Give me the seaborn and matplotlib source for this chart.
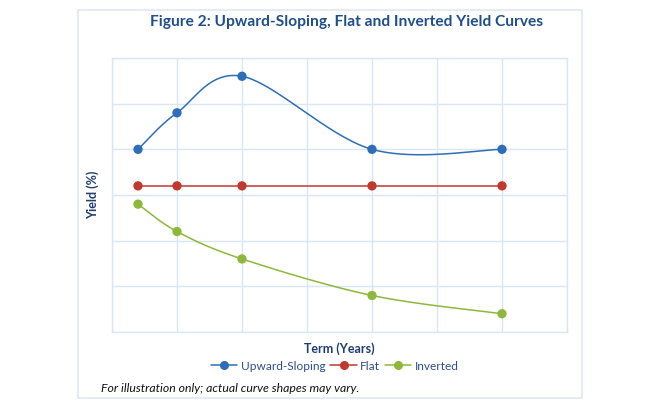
import matplotlib
matplotlib.use("Agg")
import matplotlib.pyplot as plt
from matplotlib.lines import Line2D
from matplotlib.patches import Rectangle
import numpy as np
import pandas as pd
import seaborn as sns

# values (grid units)
upTerm = [0.4, 1, 2, 4, 6]
upYield = [4.0, 4.8, 5.6, 4.0, 4.0]

flatTerm = [0.4, 1, 2, 4, 6]
flatYield = [3.2, 3.2, 3.2, 3.2, 3.2]

invTerm = [0.4, 1, 2, 4, 6]
invYield = [2.8, 2.2, 1.6, 0.8, 0.4]

seriesNames = ["Upward-Sloping", "Flat", "Inverted"]
seriesColors = ["#2E6DB8", "#C0392F", "#8DB83C"]

navy = "#1F3D6E"


def smooth(xs, ys, n=40):
    # excel-style smoothed line (cubic bezier through points, 1/6 tangents)
    p = np.column_stack([xs, ys]).astype(float)
    p = np.vstack([p[0], p, p[-1]])
    out = []
    t = np.linspace(0, 1, n)[:, None]
    for i in range(1, len(p) - 2):
        p0, p1 = p[i], p[i + 1]
        b1 = p0 + (p[i + 1] - p[i - 1]) / 6.0
        b2 = p1 - (p[i + 2] - p[i]) / 6.0
        seg = (1 - t) ** 3 * p0 + 3 * (1 - t) ** 2 * t * b1 + 3 * (1 - t) * t ** 2 * b2 + t ** 3 * p1
        out.append(seg)
    out = np.vstack(out)
    return out[:, 0], out[:, 1]


sns.set_style("white")
plt.rcParams["font.family"] = ["Lato", "DejaVu Sans"]

fig = plt.figure(figsize=(6.6, 4.03), dpi=100)
fig.patches.append(Rectangle((78 / 660, 5 / 403), 504 / 660, 388 / 403, transform=fig.transFigure,
                             fill=False, edgecolor="#DFE7F0", linewidth=1.2))

ax = fig.add_axes([112 / 660, 71 / 403, 455 / 660, 274 / 403])

allData = [(upTerm, upYield), (flatTerm, flatYield), (invTerm, invYield)]
frames = []
for name, (xs, ys) in zip(seriesNames, allData):
    sx, sy = smooth(xs, ys)
    frames.append(pd.DataFrame({"Term": sx, "Yield": sy, "Series": name, "order": np.arange(len(sx))}))
curveDf = pd.concat(frames)
pointDf = pd.concat([pd.DataFrame({"Term": xs, "Yield": ys, "Series": name})
                     for name, (xs, ys) in zip(seriesNames, allData)])

sns.lineplot(data=curveDf, x="Term", y="Yield", hue="Series", hue_order=seriesNames,
             palette=seriesColors, sort=False, estimator=None, units="Series",
             linewidth=1.1, legend=False, ax=ax)
sns.scatterplot(data=pointDf, x="Term", y="Yield", hue="Series", hue_order=seriesNames,
                palette=seriesColors, s=45, edgecolor="none", legend=False, ax=ax, zorder=5)

ax.set_xlim(0, 7)
ax.set_ylim(0, 6)
ax.set_xticks(range(0, 8))
ax.set_yticks(range(0, 7))
ax.set_xticklabels([])
ax.set_yticklabels([])
ax.tick_params(length=0)
ax.grid(True, color="#DAE6F4", linewidth=1)
ax.set_axisbelow(True)
for sp in ax.spines.values():
    sp.set_color("#DAE6F4")
    sp.set_linewidth(1)

ax.set_xlabel("Term (Years)", fontsize=9, fontweight="bold", color=navy, labelpad=4)
ax.set_ylabel("Yield (%)", fontsize=9, fontweight="bold", color=navy, labelpad=6)

fig.text(346 / 660, 1 - 22 / 403, "Figure 2: Upward-Sloping, Flat and Inverted Yield Curves",
         ha="center", va="center", fontsize=11.2, fontweight="bold", color="#1F4E8C")

handles = [Line2D([0], [0], color=c, marker="o", markersize=5.5, linewidth=1.1) for c in seriesColors]
leg = fig.legend(handles, seriesNames, loc="center", bbox_to_anchor=(335 / 660, 1 - 366 / 403),
                 ncol=3, frameon=False, fontsize=8.6, handlelength=2.2, handletextpad=0.3,
                 columnspacing=0.4)
for t in leg.get_texts():
    t.set_color("#2F4F8A")

fig.text(101 / 660, 1 - 388 / 403, "For illustration only; actual curve shapes may vary.",
         ha="left", va="center", fontsize=8.8, style="italic", color="#111111")

plt.savefig("out.png", dpi=100)
